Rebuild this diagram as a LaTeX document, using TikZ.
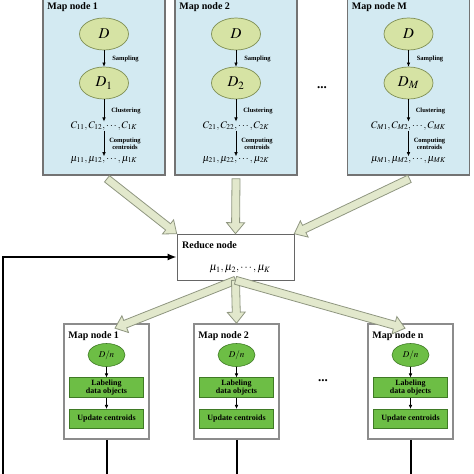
\documentclass[tikz,border=0pt]{standalone}
\usepackage{mathptmx}
\usepackage{fontspec}
\setmainfont{Liberation Serif}
\usetikzlibrary{calc,arrows.meta,shapes.geometric}
\definecolor{boxblue}{HTML}{D3EAF2}
\definecolor{ellfill}{HTML}{D6E3A4}
\definecolor{ellline}{HTML}{7F8F55}
\definecolor{lgreen}{HTML}{6DBE45}
\definecolor{lgreenline}{HTML}{3F7A25}
\definecolor{fatfill}{HTML}{E2E8CC}
\definecolor{fatline}{HTML}{8F9680}
\newcommand\fatarrow[2]{%
  \coordinate (faS) at (#1);
  \coordinate (faT) at (#2);
  \coordinate (faH) at ($(faT)!11pt!(faS)$);
  \filldraw[fatstyle] ($(faS)!4pt!90:(faT)$) -- ($(faH)!4pt!90:(faT)$) -- ($(faH)!9pt!90:(faT)$) -- (faT)
    -- ($(faH)!9pt!-90:(faT)$) -- ($(faH)!4pt!-90:(faT)$) -- ($(faS)!4pt!-90:(faT)$) -- cycle;
}
\begin{document}
\begin{tikzpicture}[x=1pt,y=-1pt,
  topbox/.style={draw=black!55,line width=1.6pt,fill=boxblue,minimum width=122pt,minimum height=185pt,inner sep=0pt},
  lowbox/.style={draw=black!45,line width=1.6pt,fill=white,minimum width=85pt,minimum height=115pt,inner sep=0pt},
  redbox/.style={draw=black!60,line width=0.6pt,fill=white,minimum width=117pt,minimum height=46pt,inner sep=0pt},
  ell/.style={ellipse,draw=ellline,line width=0.7pt,fill=ellfill,minimum width=49pt,minimum height=32pt,inner sep=0pt,font=\fontsize{15}{17}\selectfont},
  smallell/.style={ellipse,draw=lgreenline,line width=0.6pt,fill=lgreen,minimum width=37pt,minimum height=23pt,inner sep=0pt,font=\fontsize{9}{10}\selectfont},
  greenbox/.style={draw=lgreenline,line width=0.6pt,fill=lgreen,minimum width=74pt,minimum height=19.5pt,inner sep=0pt,align=center,font=\fontsize{8}{8.5}\selectfont\bfseries},
  title/.style={anchor=west,inner sep=0pt,font=\fontsize{10}{12}\selectfont\bfseries},
  steplabel/.style={anchor=west,inner sep=0pt,align=center,font=\fontsize{6.5}{7}\selectfont\bfseries},
  mathrow/.style={inner sep=0pt,font=\fontsize{10}{12}\selectfont},
  thin/.style={line width=0.6pt,-{Latex[length=4pt,width=3.5pt]}},
  thick/.style={line width=2pt},
  fatstyle/.style={fill=fatfill,draw=fatline,line width=0.8pt,line join=miter},
  dots/.style={inner sep=0pt,font=\fontsize{13}{14}\selectfont\bfseries}]
\useasboundingbox (0,0) rectangle (474,474);
\clip (0,0) rectangle (474,474);
% ---------- top map nodes ----------
\foreach \nm/\cx/\tt/\sub/\cc/\mm in {
  a/104/{Map node 1}/{1}/{C_{11},C_{12},\cdots,C_{1K}}/{\mu_{11},\mu_{12},\cdots,\mu_{1K}},
  b/236/{Map node 2}/{2}/{C_{21},C_{22},\cdots,C_{2K}}/{\mu_{21},\mu_{22},\cdots,\mu_{2K}},
  c/408.5/{Map node M}/{M}/{C_{M1},C_{M2},\cdots,C_{MK}}/{\mu_{M1},\mu_{M2},\cdots,\mu_{MK}}}{
  \node[topbox] (m\nm) at (\cx,82.5) {};
  \node[title] (t\nm) at ($(m\nm.north west)+(5,18)$) {\tt};
  \node[ell] (e\nm) at (\cx,34) {$D$};
  \node[ell] (f\nm) at (\cx,83) {$D_{\sub}$};
  \node[mathrow] (c\nm) at (\cx,126) {$\cc$};
  \node[mathrow] (u\nm) at (\cx,160) {$\mm$};
  \draw[thin] (e\nm) -- (f\nm) node[midway,steplabel,xshift=8pt] {Sampling};
  \draw[thin] (f\nm) -- (c\nm) node[midway,steplabel,xshift=7pt,yshift=-1pt] {Clustering};
  \draw[thin] (c\nm) -- (u\nm) node[midway,steplabel,xshift=5pt] {Computing\\centroids};
}
\node[dots] (dtop) at (322,88) {...};
% ---------- reduce node ----------
\node[redbox] (red) at (235.5,257) {};
\node[title] (rt) at (182,245) {Reduce node};
\node[mathrow,font=\fontsize{11}{13}\selectfont] (rmu) at (240,269) {$\mu_1,\mu_2,\cdots,\mu_K$};
% ---------- lower map nodes ----------
\foreach \nm/\cx/\tt in {a/106.5/{Map node 1},b/236.5/{Map node 2},c/410.5/{Map node n}}{
  \node[lowbox] (l\nm) at (\cx,381.5) {};
  \node[title] (lt\nm) at ($(l\nm.north west)+(5,13)$) {\tt};
  \node[smallell] (s\nm) at (\cx,355) {$D/n$};
  \node[greenbox] (g\nm) at (\cx,387.5) {Labeling\\data objects};
  \node[greenbox] (h\nm) at (\cx,419) {Update centroids};
  \draw[thin] (s\nm) -- (g\nm);
  \draw[thin] (g\nm) -- (h\nm);
  \coordinate (o\nm) at (\cx,476);
  \draw[thick] (l\nm.south) -- (o\nm);
}
\node[dots] (dlow) at (323,381) {...};
% ---------- fat arrows ----------
\coordinate (ta1) at ($(ma.south)+(3,3)$);
\coordinate (ta2) at ($(mb.south)+(0,3)$);
\coordinate (ta3) at ($(mc.south)+(1,3)$);
\fatarrow{ta1}{red.north west}
\fatarrow{ta2}{red.north}
\fatarrow{ta3}{red.north east}
\coordinate (tl1) at ($(la.north)+(8.5,5)$);
\coordinate (tl2) at (lb.north);
\coordinate (tl3) at ($(lc.north)+(-5.5,5)$);
\fatarrow{red.south}{tl1}
\fatarrow{red.south}{tl2}
\fatarrow{red.south}{tl3}
% ---------- feedback ----------
\coordinate (fb) at (3,476);
\draw[thick,-{Latex[length=9pt,width=7pt]}] (fb) |- (red.west);
\end{tikzpicture}
\end{document}
